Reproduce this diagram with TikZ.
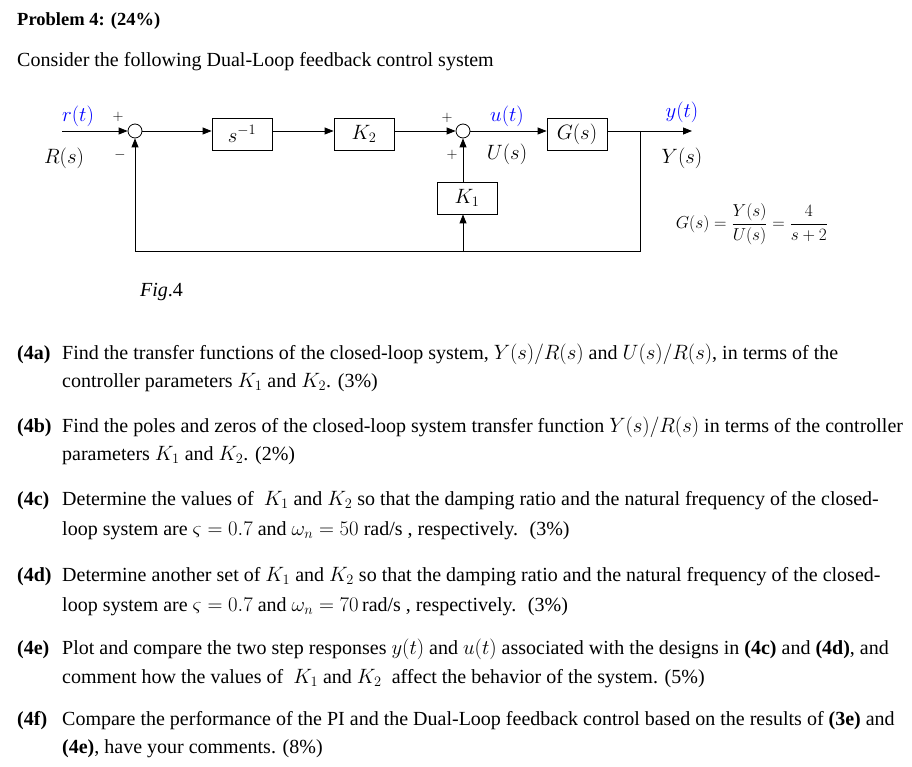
\documentclass[tikz,border=0pt]{standalone}
\usepackage{fontspec}
\setmainfont{Liberation Serif}
\usetikzlibrary{arrows.meta}
\begin{document}
\begin{tikzpicture}[x=1pt,y=-1pt,
  txt/.style={anchor=base west,inner sep=0pt,font=\fontsize{20}{24}\selectfont},
  blk/.style={draw,thick,minimum width=60pt,minimum height=32pt,inner sep=0pt,font=\fontsize{21}{24}\selectfont},
  sj/.style={draw,thick,circle,minimum size=14pt,inner sep=0pt},
  lab/.style={font=\fontsize{21}{24}\selectfont,inner sep=0pt},
  sg/.style={font=\fontsize{14}{16}\selectfont,inner sep=0pt},
  arr/.style={thick,-{Triangle[length=9pt,width=7pt]}},
  ln/.style={thick}]
\useasboundingbox (0,0) rectangle (912,767);
\node[txt,font=\fontsize{18.5}{22}\selectfont\bfseries] (t0) at (17,26) {Problem 4: (24\%)};
\node[txt] (t1) at (17,67) {Consider the following Dual-Loop feedback control system};
% diagram
\coordinate (in) at (62,131);
\node[sj] (s1) at (135,131) {};
\node[blk] (b1) at (242,134) {$s^{-1}$};
\node[blk] (b2) at (364,134) {$K_2$};
\node[sj] (s2) at (463,131) {};
\node[blk] (g) at (577,134) {$G(s)$};
\node[blk] (k1) at (467,198) {$K_1$};
\coordinate (br) at (640,131);
\coordinate (out) at (692,131);
\coordinate (bl) at (135,251);
\coordinate (brb) at (640,251);
\coordinate (km) at (463,251);
\draw[arr] (in) -- (s1);
\draw[arr] (s1) -- (b1.west|-s1);
\draw[arr] (b1.east|-s1) -- (b2.west|-s1);
\draw[arr] (b2.east|-s1) -- (s2);
\draw[arr] (s2) -- (g.west|-s2);
\draw[arr] (g.east|-s2) -- (out);
\draw[ln] (br) -- (brb) -- (bl);
\draw[arr] (bl) -- (s1);
\draw[arr] (k1.north-|s2) -- (s2);
\draw[arr] (km) -- (k1.south-|km);
\node[lab,text=blue] (lr) at (78,116) {$r(t)$};
\node[lab] (lR) at (64,158) {$R(s)$};
\node[sg] (p1) at (118,117) {$+$};
\node[sg] (m1) at (120,155) {$-$};
\node[sg] (p2) at (447,118) {$+$};
\node[sg] (p3) at (452,155) {$+$};
\node[lab,text=blue] (lu) at (507,116) {$u(t)$};
\node[lab] (lU) at (507,154) {$U(s)$};
\node[lab,text=blue] (ly) at (682,112) {$y(t)$};
\node[lab] (lY) at (682,158) {$Y(s)$};
\node[lab,font=\fontsize{18}{20}\selectfont] (gf) at (752,224) {$\displaystyle G(s)=\frac{Y(s)}{U(s)}=\frac{4}{s+2}$};
\node[txt] (fig) at (140,296) {\textit{Fig}.4};
% questions
\def\qx{62}
\node[txt,font=\fontsize{20}{24}\selectfont\bfseries] (qa) at (17,359) {(4a)};
\node[txt] (qa1) at (\qx,359) {Find the transfer functions of the closed-loop system, $Y(s)/R(s)$ and $U(s)/R(s)$, in terms of the};
\node[txt] (qa2) at (\qx,387) {controller parameters $K_1$ and $K_2$. (3\%)};
\node[txt,font=\fontsize{20}{24}\selectfont\bfseries] (qb) at (17,432) {(4b)};
\node[txt] (qb1) at (\qx,432) {Find the poles and zeros of the closed-loop system transfer function $Y(s)/R(s)$ in terms of the controller};
\node[txt] (qb2) at (\qx,460) {parameters $K_1$ and $K_2$. (2\%)};
\node[txt,font=\fontsize{20}{24}\selectfont\bfseries] (qc) at (17,505) {(4c)};
\node[txt] (qc1) at (\qx,505) {Determine the values of \ $K_1$ and $K_2$ so that the damping ratio and the natural frequency of the closed-};
\node[txt] (qc2) at (\qx,535) {loop system are $\varsigma=0.7$ and $\omega_n=50$ rad/s , respectively. \ (3\%)};
\node[txt,font=\fontsize{20}{24}\selectfont\bfseries] (qd) at (17,581) {(4d)};
\node[txt] (qd1) at (\qx,581) {Determine another set of $K_1$ and $K_2$ so that the damping ratio and the natural frequency of the closed-};
\node[txt] (qd2) at (\qx,611) {loop system are $\varsigma=0.7$ and $\omega_n=70$\,rad/s , respectively. \ (3\%)};
\node[txt,font=\fontsize{20}{24}\selectfont\bfseries] (qe) at (17,654) {(4e)};
\node[txt] (qe1) at (\qx,654) {Plot and compare the two step responses $y(t)$ and $u(t)$ associated with the designs in \textbf{(4c)} and \textbf{(4d)}, and};
\node[txt] (qe2) at (\qx,683) {comment how the values of \ $K_1$ and $K_2$ \ affect the behavior of the system. (5\%)};
\node[txt,font=\fontsize{20}{24}\selectfont\bfseries] (qf) at (17,725) {(4f)};
\node[txt] (qf1) at (\qx,725) {Compare the performance of the PI and the Dual-Loop feedback control based on the results of \textbf{(3e)} and};
\node[txt] (qf2) at (\qx,753) {\textbf{(4e)}, have your comments. (8\%)};
\end{tikzpicture}
\end{document}
